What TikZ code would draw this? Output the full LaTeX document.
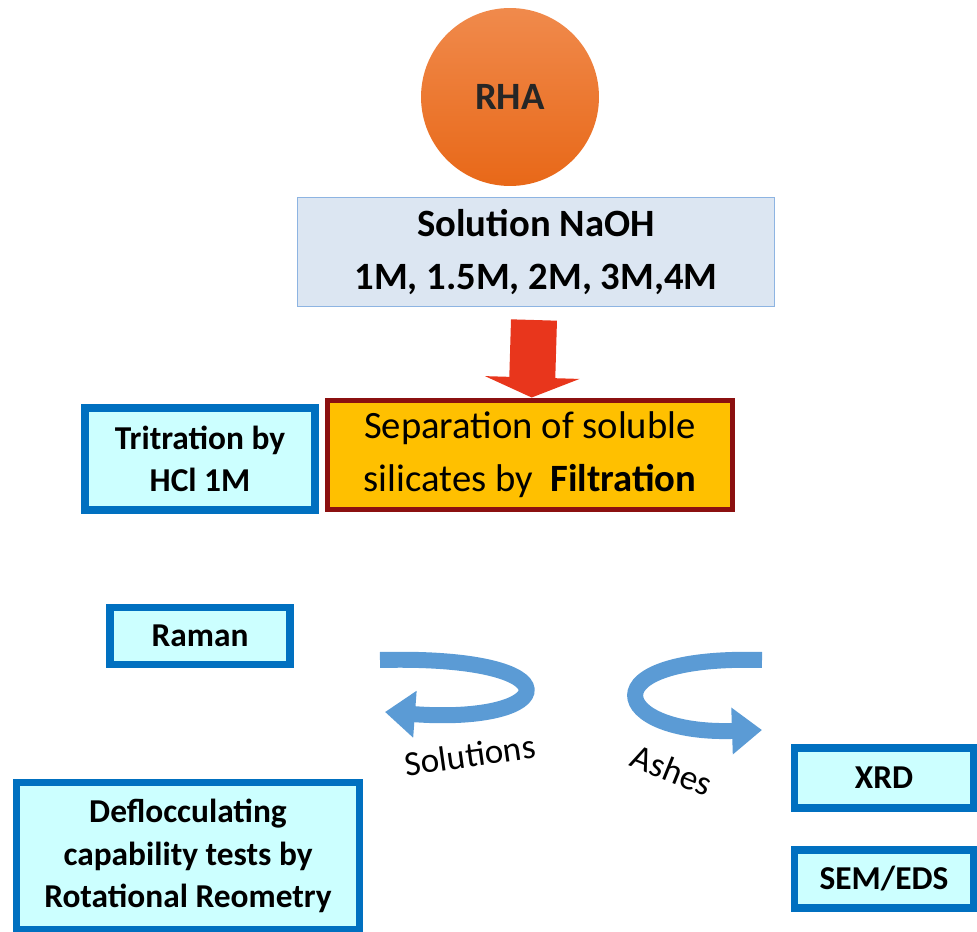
\documentclass[tikz,border=0pt]{standalone}
\usepackage{fontspec}
\setmainfont{Carlito}
\usetikzlibrary{arrows.meta,positioning}
\definecolor{boxblue}{HTML}{0070C0}
\definecolor{cyanfill}{HTML}{CCFFFF}
\definecolor{naohfill}{HTML}{DCE6F2}
\definecolor{naohline}{HTML}{8DB4E2}
\definecolor{ribbon}{HTML}{5B9BD5}
\definecolor{filtfill}{HTML}{FFC000}
\definecolor{filtline}{HTML}{8B1010}
\definecolor{downred}{HTML}{E8361C}
\definecolor{rhatop}{HTML}{F08A4C}
\definecolor{rhabot}{HTML}{E86818}
\tikzset{
  test/.style={draw=boxblue, line width=1.5mm, fill=cyanfill, align=center,
    font=\fontsize{19}{24}\selectfont\bfseries, inner sep=0pt},
  turn/.style={draw=ribbon, line width=3.2mm,
    -{Triangle[length=6mm,width=9mm]}},
}
\begin{document}
\begin{tikzpicture}[x=0.02cm,y=-0.02cm]
        \useasboundingbox (0,0) rectangle (977,932);

        \node[circle, minimum size=3.56cm, inner sep=0pt, top color=rhatop, bottom color=rhabot, draw=none,
              font=\fontsize{22}{26}\selectfont\bfseries, text=black!85] (rha) at (510,97) {RHA};

        \node[draw=naohline, fill=naohfill, line width=0.6pt, minimum width=9.54cm, minimum height=2.18cm, align=center,
              font=\fontsize{22}{30}\selectfont\bfseries] (naoh) at (536,252) {Solution NaOH\\1M, 1.5M, 2M, 3M,4M};

        \node[draw=filtline, fill=filtfill, line width=1mm, minimum width=8.1cm, minimum height=2.2cm, align=center,
              font=\fontsize{22}{30}\selectfont] (filt) at (530,455) {Separation of soluble\\silicates by \ \textbf{Filtration}};

        \draw[draw=downred, line width=0.92cm, shorten <=0.26cm, -{Triangle[length=0.4cm,width=1.88cm]}] (naoh) -- (filt);

        \node[test, minimum width=4.6cm, minimum height=2.04cm] (hcl) at (200,459) {Tritration by\\HCl 1M};
        \node[test, minimum width=3.6cm, minimum height=1.14cm] (raman) at (200,636) {Raman};
        \node[test, minimum width=6.86cm, minimum height=2.94cm] (defl) at (188,856) {Deflocculating\\capability tests by\\Rotational Reometry};
        \node[test, minimum width=3.58cm, minimum height=1.2cm] (xrd) at (884,778) {XRD};
        \node[test, minimum width=3.58cm, minimum height=1.16cm] (sem) at (884,879) {SEM/EDS};

        % rotating arrows
        \coordinate (sa) at (380,660);
        \coordinate (sb) at (385,712);
        \coordinate (aa) at (762,660);
        \coordinate (ab) at (762,730);
        \draw[turn] (sa) .. controls (580,655) and (560,725) .. (sb);
        \draw[turn] (aa) .. controls (585,655) and (610,735) .. (ab);

        \node[rotate=8, font=\fontsize{20}{24}\selectfont] (sol) at (470,755) {Solutions};
        \node[rotate=-22, font=\fontsize{20}{24}\selectfont, inner sep=1pt] (ash) at (672,770) {Ashes};

\end{tikzpicture}
\end{document}
